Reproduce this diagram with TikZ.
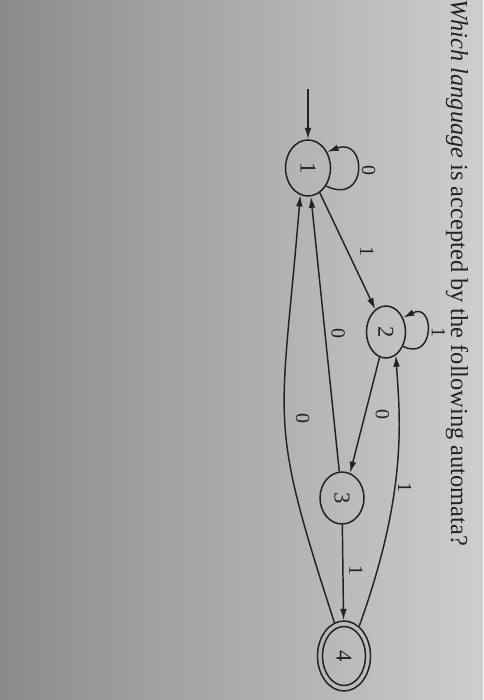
\documentclass[tikz,border=0pt]{standalone}
\usepackage{fontspec}
\setmainfont{Liberation Serif}
\usepackage{graphicx}
\usetikzlibrary{shapes.geometric,arrows.meta}
\definecolor{ink}{HTML}{232323}
\definecolor{bgl}{HTML}{8C8A8A}
\definecolor{bgm}{HTML}{A6A4A4}
\definecolor{bgr}{HTML}{CECECE}
\newcommand{\myqfont}{\fontsize{18.3}{21}\selectfont}
\newcommand{\mydfont}{\fontsize{17}{19}\selectfont}
\newcommand{\mylfont}{\fontsize{15}{17}\selectfont}
\newcommand{\rotlab}[1]{\rotatebox{-90}{#1}}
\tikzset{
  st/.style={ellipse, draw=ink, line width=1.15pt, inner sep=0pt, text=ink, font=\mydfont},
  tr/.style={-{Latex[length=8.5pt,width=5pt]}, draw=ink, line width=1.1pt},
  lab/.style={text=ink, inner sep=0pt, font=\mylfont},
}
\begin{document}
\begin{tikzpicture}[x={(0.75pt,0)}, y={(0,-0.75pt)}]
\useasboundingbox (0,0) rectangle (483,700);
\shade[left color=bgl, middle color=bgm, right color=bgr] (0,0) rectangle (483,700);

\node[rotate=-90, anchor=base west, text=ink, font=\myqfont, inner sep=0pt] (q) at (451,-1)
  {\textit{Which language} is accepted by the following automata?};

\node[st, minimum width=33.75pt, minimum height=42pt] (n1) at (308,168) {\rotlab{1}};
\node[st, minimum width=29.25pt, minimum height=39pt] (n2) at (386,332) {\rotlab{2}};
\node[st, minimum width=33pt, minimum height=39pt] (n3) at (342,498) {\rotlab{3}};
\node[st, minimum width=39.75pt, minimum height=52.5pt] (n4) at (344,656) {};
\node[st, minimum width=32.25pt, minimum height=44.25pt] (n4in) at (n4.center) {\rotlab{4}};

\coordinate (s) at (308,89);
\draw[tr] (s) -- (n1);

\draw[tr] (n1.-45) .. controls +(42,20) and +(40,-15) .. node[lab, pos=0.5, xshift=8.5pt] {\rotlab{0}} (n1.40);
\draw[tr] (n2.-40) .. controls +(32,16) and +(32,-16) .. node[lab, pos=0.5, xshift=8.5pt] {\rotlab{1}} (n2.40);

\draw[tr] (n1) -- node[lab, pos=0.5, xshift=14.6pt] {\rotlab{1}} (n2);
\draw[tr] (n2) -- node[lab, pos=0.495, xshift=13pt] {\rotlab{0}} (n3.72);
\draw[tr] (n3) -- node[lab, pos=0.5, xshift=9.8pt] {\rotlab{0}} (n1);
\draw[tr] (n3) -- node[lab, pos=0.48, xshift=9.75pt] {\rotlab{1}} (n4);
\draw[tr] (n4.106) .. controls +(-68,-209) and +(-19,234) .. node[lab, pos=0.5, xshift=13.5pt] {\rotlab{0}} (n1.254);
\draw[tr] (n4.63) .. controls +(50,-138) and +(3.5,58) .. node[lab, pos=0.4, xshift=7.5pt] {\rotlab{1}} (n2.-67);
\end{tikzpicture}
\end{document}
